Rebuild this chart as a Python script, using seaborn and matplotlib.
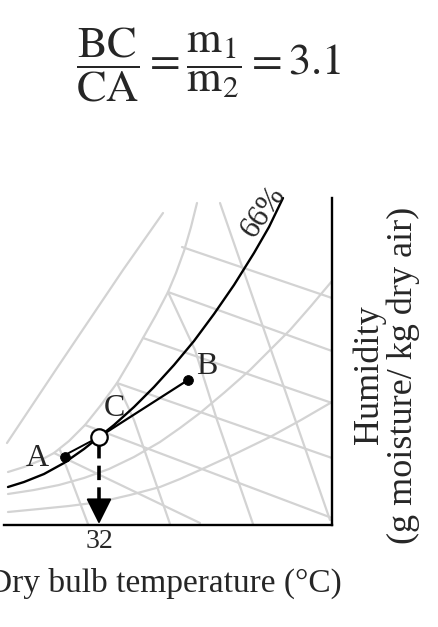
import matplotlib
matplotlib.use("Agg")
import matplotlib.pyplot as plt
import seaborn as sns

# chart units: 1 unit ~ 1 px of the original drawing, origin at the lower-left of the frame

# relative humidity curves (grey)
rh_a_x = [3, 53, 119, 159]
rh_a_y = [82, 157, 255, 312]
rh_b_x = [4, 20, 35, 50, 65, 81, 97, 113, 126, 139, 152, 164, 172, 180, 187, 193]
rh_b_y = [53, 58, 64, 72, 84, 100, 120, 142, 164, 187, 210, 233, 252, 274, 298, 322]
rh_d_x = [4, 30, 55, 80, 105, 130, 156, 176, 196, 221, 246, 266, 286, 307, 328]
rh_d_y = [31, 35, 40, 47, 56, 68, 83, 97, 112, 133, 155, 175, 195, 219, 244]
rh_e_x = [4, 35, 65, 96, 126, 156, 176, 196, 231, 266, 297, 328]
rh_e_y = [13, 16, 19, 23, 30, 38, 46, 55, 71, 88, 105, 123]

# the 66 % curve (black)
rh66_x = [4, 20, 40, 60, 80, 95, 110, 130, 150, 170, 190, 210, 230, 250, 265, 279]
rh66_y = [38, 43, 51, 62, 76, 88, 100, 118, 138, 160, 184, 211, 240, 272, 298, 327]

# shallow descending lines (start on curve b, run to the frame)
shallow_x0 = [178, 164, 139, 113, 81, 50]
shallow_y0 = [278, 233, 187, 142, 100, 72]
shallow_x1 = [328, 328, 328, 328, 328, 196]
shallow_y1 = [227, 174, 122, 67, 7, 2]

# steep descending lines
steep1_x = [216, 326]
steep1_y = [322, 5]
steep2_x = [164, 191, 213, 249]
steep2_y = [233, 175, 105, 1]
steep3_x = [113, 130, 166]
steep3_y = [142, 105, 1]
steep4_x = [56, 84]
steep4_y = [75, 1]

# states
state_names = ["A", "B", "C"]
state_x = [61, 184, 95]
state_y = [68, 145, 88]

temp_ticks = [95]
temp_labels = ["32"]

sns.set_theme(style="white")
plt.rcParams["font.family"] = ["Liberation Serif", "DejaVu Serif"]
plt.rcParams["mathtext.fontset"] = "stix"

fig = plt.figure(figsize=(4.39, 6.27), dpi=100)
ax = fig.add_axes([4 / 439, 102 / 627, 328 / 439, 327 / 627])

grey = "#d3d3d3"
grey_lines = [(rh_a_x, rh_a_y), (rh_b_x, rh_b_y), (rh_d_x, rh_d_y), (rh_e_x, rh_e_y),
              (steep1_x, steep1_y), (steep2_x, steep2_y), (steep3_x, steep3_y),
              (steep4_x, steep4_y)]
for x0, y0, x1, y1 in zip(shallow_x0, shallow_y0, shallow_x1, shallow_y1):
    grey_lines.append(([x0, x1], [y0, y1]))

for xs, ys in grey_lines:
    sns.lineplot(x=xs, y=ys, ax=ax, color=grey, lw=1.6, sort=False, estimator=None)

sns.lineplot(x=rh66_x, y=rh66_y, ax=ax, color="black", lw=1.7, sort=False,
             estimator=None).lines[-1].set_clip_on(False)

# mixing line A - C - B
sns.lineplot(x=[state_x[0], state_x[2]], y=[state_y[0] + 2, state_y[2]], ax=ax,
             color="black", lw=1.4, sort=False, estimator=None)
sns.lineplot(x=[state_x[2], state_x[1]], y=[state_y[2], state_y[1]], ax=ax,
             color="black", lw=1.6, sort=False, estimator=None)

# dashed drop from C to the temperature axis
sns.lineplot(x=[state_x[2], state_x[2]], y=[state_y[2] - 7, 20], ax=ax, color="black",
             lw=2.6, sort=False, estimator=None)
ax.lines[-1].set_dashes((4, 2))
ax.annotate("", xy=(state_x[2], 1), xytext=(state_x[2], 21),
            arrowprops=dict(arrowstyle="-|>,head_length=0.8,head_width=0.4",
                            mutation_scale=20, color="black", lw=1.5,
                            shrinkA=0, shrinkB=0))

sns.scatterplot(x=state_x[:2], y=state_y[:2], ax=ax, color="black", s=50,
                edgecolor="black", zorder=5)
sns.scatterplot(x=state_x[2:], y=state_y[2:], ax=ax, color="white", s=140,
                edgecolor="black", linewidth=1.6, zorder=6)

label_dx = [-28, 19, 15]
label_dy = [-1, 14, 28]
for name, x, y, dx, dy in zip(state_names, state_x, state_y, label_dx, label_dy):
    ax.text(x + dx, y + dy, name, fontsize=23, ha="center", va="center")

ax.text(260, 313, "66%", fontsize=22, rotation=55, ha="center", va="center")

ax.set_xlim(0, 328)
ax.set_ylim(0, 327)
for side in ["left", "top"]:
    ax.spines[side].set_visible(False)
for side in ["bottom", "right"]:
    ax.spines[side].set_color("black")
    ax.spines[side].set_linewidth(1.7)

ax.set_xticks(temp_ticks)
ax.set_xticklabels(temp_labels, fontsize=20)
ax.set_yticks([])
ax.tick_params(axis="x", length=0, pad=3)

ax.set_xlabel("Dry bulb temperature (°C)", fontsize=24)
ax.xaxis.set_label_coords(0.49, -0.132)
ax.text(1.166, 0.459, "Humidity\n(g moisture/ kg dry air)", transform=ax.transAxes,
        fontsize=26, rotation=90, ha="center", va="center", multialignment="center",
        linespacing=1.0)

fig.text(0.476, 0.897,
         r"$\dfrac{\mathrm{BC}}{\mathrm{CA}} = \dfrac{\mathrm{m}_1}{\mathrm{m}_2} = 3.1$",
         fontsize=32, ha="center", va="center")

fig.savefig("out.png", dpi=100)
